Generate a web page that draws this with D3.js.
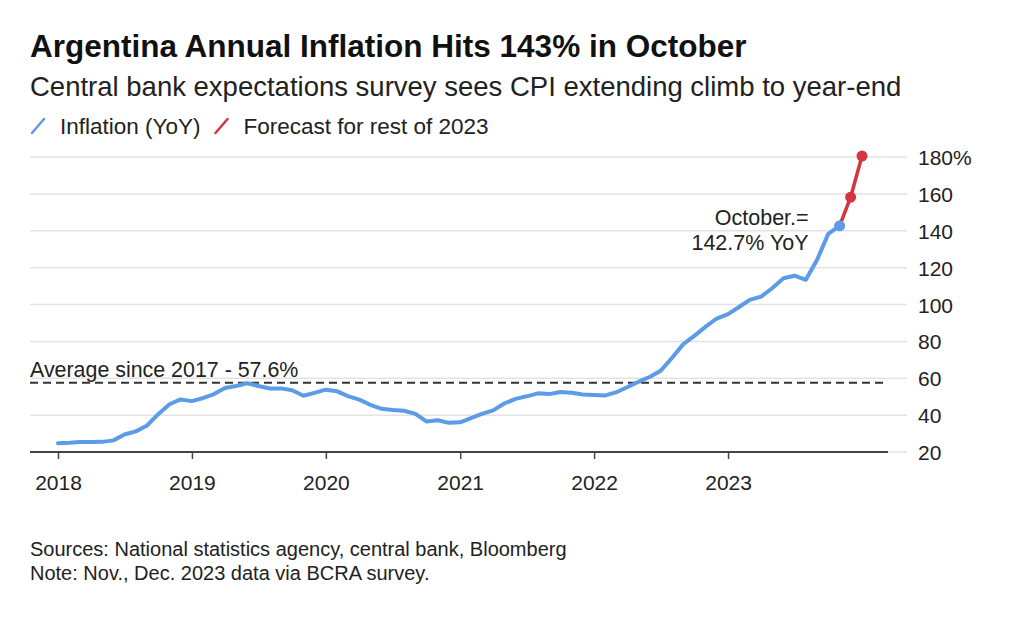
<!DOCTYPE html>
<html>
<head>
<meta charset="utf-8">
<script src="https://cdn.jsdelivr.net/npm/d3@7"></script>
<style>
  body { margin: 0; background: #fff; }
  svg { font-family: "Liberation Sans", Arial, sans-serif; }
  .grid line { stroke: #e3e3e3; stroke-width: 1.5; }
  .yAxis text, .xAxis text { fill: #222; font-size: 21px; }
</style>
</head>
<body>
<svg id="chart" width="1024" height="635"></svg>
<script>
  // Monthly YoY inflation, Dec 2017 .. Oct 2023 (points plotted at month end)
  const firstMonth = '2017-12';
  const inflation = [
    24.8,
    25.0, 25.4, 25.4, 25.5, 26.3, 29.5, 31.2, 34.4, 40.5, 45.9, 48.5, 47.6,
    49.3, 51.3, 54.7, 55.8, 57.3, 55.8, 54.4, 54.5, 53.5, 50.5, 52.1, 53.8,
    52.9, 50.3, 48.4, 45.6, 43.4, 42.8, 42.4, 40.7, 36.6, 37.2, 35.8, 36.1,
    38.5, 40.7, 42.6, 46.3, 48.8, 50.2, 51.8, 51.4, 52.5, 52.1, 51.2, 50.9,
    50.7, 52.3, 55.1, 58.0, 60.7, 64.0, 71.0, 78.5, 83.0, 88.0, 92.4, 94.8,
    98.8, 102.5, 104.3, 108.8, 114.2, 115.6, 113.4, 124.4, 138.3, 142.7
  ];
  // BCRA survey: Oct (actual), Nov, Dec 2023
  const forecastMonths = ['2023-10', '2023-11', '2023-12'];
  const forecast = [142.7, 158.2, 180.5];

  const average = 57.6;
  const yTicks = [20, 40, 60, 80, 100, 120, 140, 160, 180];
  const xTickYears = [2018, 2019, 2020, 2021, 2022, 2023];

  const title = 'Argentina Annual Inflation Hits 143% in October';
  const subtitle = 'Central bank expectations survey sees CPI extending climb to year-end';
  const legendItems = [
    { label: 'Inflation (YoY)', color: '#5b9be8' },
    { label: 'Forecast for rest of 2023', color: '#d2353e' }
  ];
  const notes = [
    'Sources: National statistics agency, central bank, Bloomberg',
    'Note: Nov., Dec. 2023 data via BCRA survey.'
  ];

  const BLUE = legendItems[0].color;
  const RED = legendItems[1].color;
  const parseMonth = d3.timeParse('%Y-%m');
  // month-end position = first day of next month
  const monthEnd = m => d3.timeMonth.offset(parseMonth(m), 1);

  const series = inflation.map((v, i) => ({
    date: d3.timeMonth.offset(monthEnd(firstMonth), i),
    value: v
  }));
  const forecastSeries = forecastMonths.map((m, i) => ({ date: monthEnd(m), value: forecast[i] }));

  const svg = d3.select('#chart');

  // plot frame
  const left = 30;
  const axisEnd = 888;
  const gridEnd = 907;

  const x = d3.scaleTime()
    .domain([new Date(2018, 0, 1), new Date(2024, 0, 1)])
    .range([58, 862]);

  const y = d3.scaleLinear()
    .domain([20, 180])
    .range([452, 157]);

  /*
   * Header
   */
  svg.append('text')
    .attr('x', left).attr('y', 57)
    .style('font-size', '31.5px').style('font-weight', 'bold').style('fill', '#111')
    .text(title);

  svg.append('text')
    .attr('x', left).attr('y', 96)
    .style('font-size', '27.5px').style('fill', '#222')
    .text(subtitle);

  const legend = svg.append('g').attr('transform', 'translate(0, 134)');
  let lx = left + 2;
  legendItems.forEach(item => {
    legend.append('line')
      .attr('x1', lx).attr('y1', -1).attr('x2', lx + 12).attr('y2', -15)
      .style('stroke', item.color).style('stroke-width', 2.5).style('stroke-linecap', 'round');
    const t = legend.append('text')
      .attr('x', lx + 28).attr('y', 0)
      .style('font-size', '22.5px').style('fill', '#222')
      .text(item.label);
    lx += 28 + t.node().getComputedTextLength() + 15;
  });

  /*
   * Grid and axes
   */
  svg.append('g')
    .attr('class', 'grid')
    .selectAll('line')
    .data(yTicks)
    .join('line')
    .attr('x1', left).attr('x2', gridEnd)
    .attr('y1', d => y(d)).attr('y2', d => y(d));

  const yAxis = d3.axisRight(y)
    .tickValues(yTicks)
    .tickSize(0)
    .tickPadding(0)
    .tickFormat(d => d === 180 ? d + '%' : d);

  svg.append('g')
    .attr('class', 'yAxis')
    .attr('transform', 'translate(918, 0)')
    .call(yAxis)
    .call(g => g.select('.domain').remove())
    .selectAll('text')
    .attr('dy', '0.36em');

  svg.append('line')
    .attr('x1', left).attr('x2', axisEnd)
    .attr('y1', y(20)).attr('y2', y(20))
    .style('stroke', '#444').style('stroke-width', 2);

  const xAxis = d3.axisBottom(x)
    .tickValues(xTickYears.map(yr => new Date(yr, 0, 1)))
    .tickSize(7)
    .tickPadding(16)
    .tickFormat(d3.timeFormat('%Y'));

  svg.append('g')
    .attr('class', 'xAxis')
    .attr('transform', `translate(0, ${y(20)})`)
    .call(xAxis)
    .call(g => g.select('.domain').remove())
    .call(g => g.selectAll('.tick line').style('stroke', '#444').style('stroke-width', 1.5));

  /*
   * Average reference line
   */
  svg.append('line')
    .attr('x1', left).attr('x2', axisEnd)
    .attr('y1', y(average)).attr('y2', y(average))
    .style('stroke', '#333').style('stroke-width', 2)
    .style('stroke-dasharray', '8,5');

  svg.append('text')
    .attr('x', left).attr('y', y(average) - 6)
    .style('font-size', '21.4px').style('fill', '#222')
    .text(`Average since 2017 - ${average}%`);

  /*
   * Lines and markers
   */
  const line = d3.line()
    .x(d => x(d.date))
    .y(d => y(d.value));

  svg.append('path')
    .datum(forecastSeries)
    .attr('d', line)
    .style('fill', 'none').style('stroke', RED).style('stroke-width', 3.5)
    .style('stroke-linejoin', 'round');

  svg.append('path')
    .datum(series)
    .attr('d', line)
    .style('fill', 'none').style('stroke', BLUE).style('stroke-width', 4)
    .style('stroke-linejoin', 'round').style('stroke-linecap', 'round');

  svg.selectAll('.fdot')
    .data(forecastSeries.slice(1))
    .join('circle')
    .attr('class', 'fdot')
    .attr('cx', d => x(d.date)).attr('cy', d => y(d.value))
    .attr('r', 5.5)
    .style('fill', RED);

  const last = series[series.length - 1];
  svg.append('circle')
    .attr('cx', x(last.date)).attr('cy', y(last.value))
    .attr('r', 5.5)
    .style('fill', BLUE);

  const note = svg.append('text')
    .attr('text-anchor', 'end')
    .style('font-size', '21.5px').style('fill', '#222');
  note.append('tspan')
    .attr('x', x(last.date) - 31).attr('y', y(last.value) - 1)
    .text('October.=');
  note.append('tspan')
    .attr('x', x(last.date) - 31).attr('y', y(last.value) + 24)
    .text(`${last.value}% YoY`);

  /*
   * Footnotes
   */
  svg.append('g')
    .selectAll('text')
    .data(notes)
    .join('text')
    .attr('x', left).attr('y', (d, i) => 556 + i * 24)
    .style('font-size', '20px').style('fill', '#222')
    .text(d => d);
</script>
</body>
</html>
